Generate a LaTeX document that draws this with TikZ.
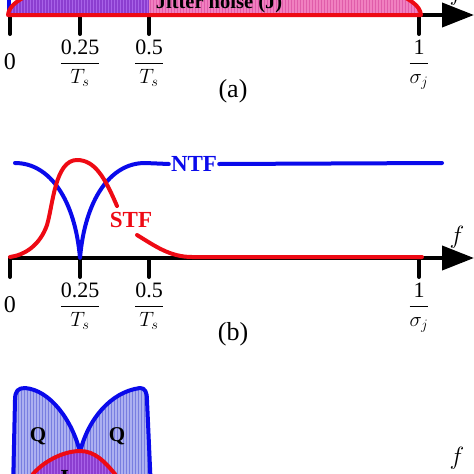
\documentclass[tikz,border=0pt]{standalone}
\usepackage{amsmath}
\usepackage{fontspec}
\setmainfont{Liberation Serif}
\usetikzlibrary{arrows.meta,patterns}

\definecolor{jitpurple}{RGB}{140,62,208}
\definecolor{jitpurpleline}{RGB}{168,98,232}
\definecolor{jitpink}{RGB}{240,128,192}
\definecolor{jitpinkline}{RGB}{224,92,170}
\definecolor{qblue}{RGB}{172,176,240}
\definecolor{qblueline}{RGB}{120,126,224}
\definecolor{tfblue}{RGB}{10,10,235}
\definecolor{tfred}{RGB}{238,10,20}

\tikzset{hatched/.style={preaction={fill=#1},preaction={pattern=vertical lines,pattern color=#1line}}}

\begin{document}
\begin{tikzpicture}[x=1pt,y=-1pt,font=\fontsize{22}{26}\selectfont]

\tikzstyle{axis}=[line width=4pt,-{Triangle[length=32pt,width=24pt]}]
\tikzstyle{tick}=[line width=4pt,line cap=round]
\tikzstyle{redline}=[draw=tfred,line width=4pt,line cap=round,line join=round]
\tikzstyle{blueline}=[draw=tfblue,line width=4pt,line cap=round,line join=round]
\tikzstyle{lab}=[font=\fontsize{23}{27}\selectfont\bfseries,inner sep=2pt]

\useasboundingbox (0,0) rectangle (474,474);
\clip (0,0) rectangle (474,474);

% (a) jitter noise
\path[hatched=jitpurple] (8,15) .. controls (9,7) and (15,2) .. (28,-5) -- (28,-30) -- (149,-30) -- (149,15) -- cycle;
\path[hatched=jitpink] (149,15) -- (149,-30) -- (395,-30) -- (395,-8) .. controls (410,0) and (420,5) .. (421,15) -- cycle;
\draw[blueline,line cap=butt] (9,-20) -- (9,11);
\node[lab,font=\fontsize{20.5}{24}\selectfont\bfseries,anchor=base] (jit) at (219,8) {Jitter noise (J)};

% axes, ticks and labels
\foreach \ay/\pl in {15/a,258/b} {
    \draw[axis] (8,\ay) -- (474,\ay);
    \foreach \x/\lab [count=\i] in {10/{\fontsize{24}{28}\selectfont 0},80/{$\dfrac{\text{0.25}}{T_s}$},149/{$\dfrac{\text{0.5}}{T_s}$},419/{$\dfrac{\text{1}}{\sigma_j}$}} {
        \draw[tick] (\x,\ay) -- (\x,\ay+19);
        \node[anchor=base] (tick-\pl-\i) at (\x,\ay+54) {\lab};
    }
    \node[font=\fontsize{26}{30}\selectfont] (cap-\pl) at (233,\ay+76) {(\pl)};
    \node[font=\fontsize{24}{28}\selectfont] (f-\pl) at (457,\ay-21) {$f$};
}

\draw[redline] (28,-5) .. controls (15,2) and (9,7) .. (8,15) -- (421,15) .. controls (420,5) and (410,0) .. (395,-8);

% (b) NTF and STF
\node[lab,text=tfblue] (ntf) at (194,164) {NTF};
\coordinate (ntf-end) at (442,163);
\draw[blueline] (15,163) .. controls (50,163) and (75,200) .. (80,258) .. controls (85,200) and (110,163) .. (145,163) -- (ntf.west);
\draw[blueline] (ntf.east) -- (ntf-end);

\node[lab,text=tfred] (stf) at (131,220) {STF};
\draw[redline] (10,257) .. controls (25,255) and (40,245) .. (47,225) .. controls (53,205) and (55,160) .. (77,160) .. controls (95,160) and (105,178) .. (117,206);
\draw[redline] (137,235) .. controls (155,246) and (170,257) .. (192,257) -- (422,257);

% (c) quantization and jitter
\path[hatched=qblue,blueline] (13,490) -- (15,400) .. controls (15,391) and (18,388) .. (25,388) .. controls (50,390) and (72,420) .. (80,452) .. controls (88,420) and (110,392) .. (140,388) .. controls (145,388) and (147,392) .. (147,400) -- (151,490) -- cycle;
\path[hatched=jitpurple,redline] (30,490) -- (33,474) .. controls (45,460) and (65,451) .. (80,451) .. controls (95,451) and (105,462) .. (115,474) -- (118,490) -- cycle;
\node[lab,font=\fontsize{21}{25}\selectfont\bfseries] (q-l) at (38,436) {Q};
\node[lab,font=\fontsize{21}{25}\selectfont\bfseries] (q-r) at (117,436) {Q};
\node[lab] (j-c) at (63,478) {J};
\node[font=\fontsize{24}{28}\selectfont] (f-c) at (457,458) {$f$};

\end{tikzpicture}
\end{document}
